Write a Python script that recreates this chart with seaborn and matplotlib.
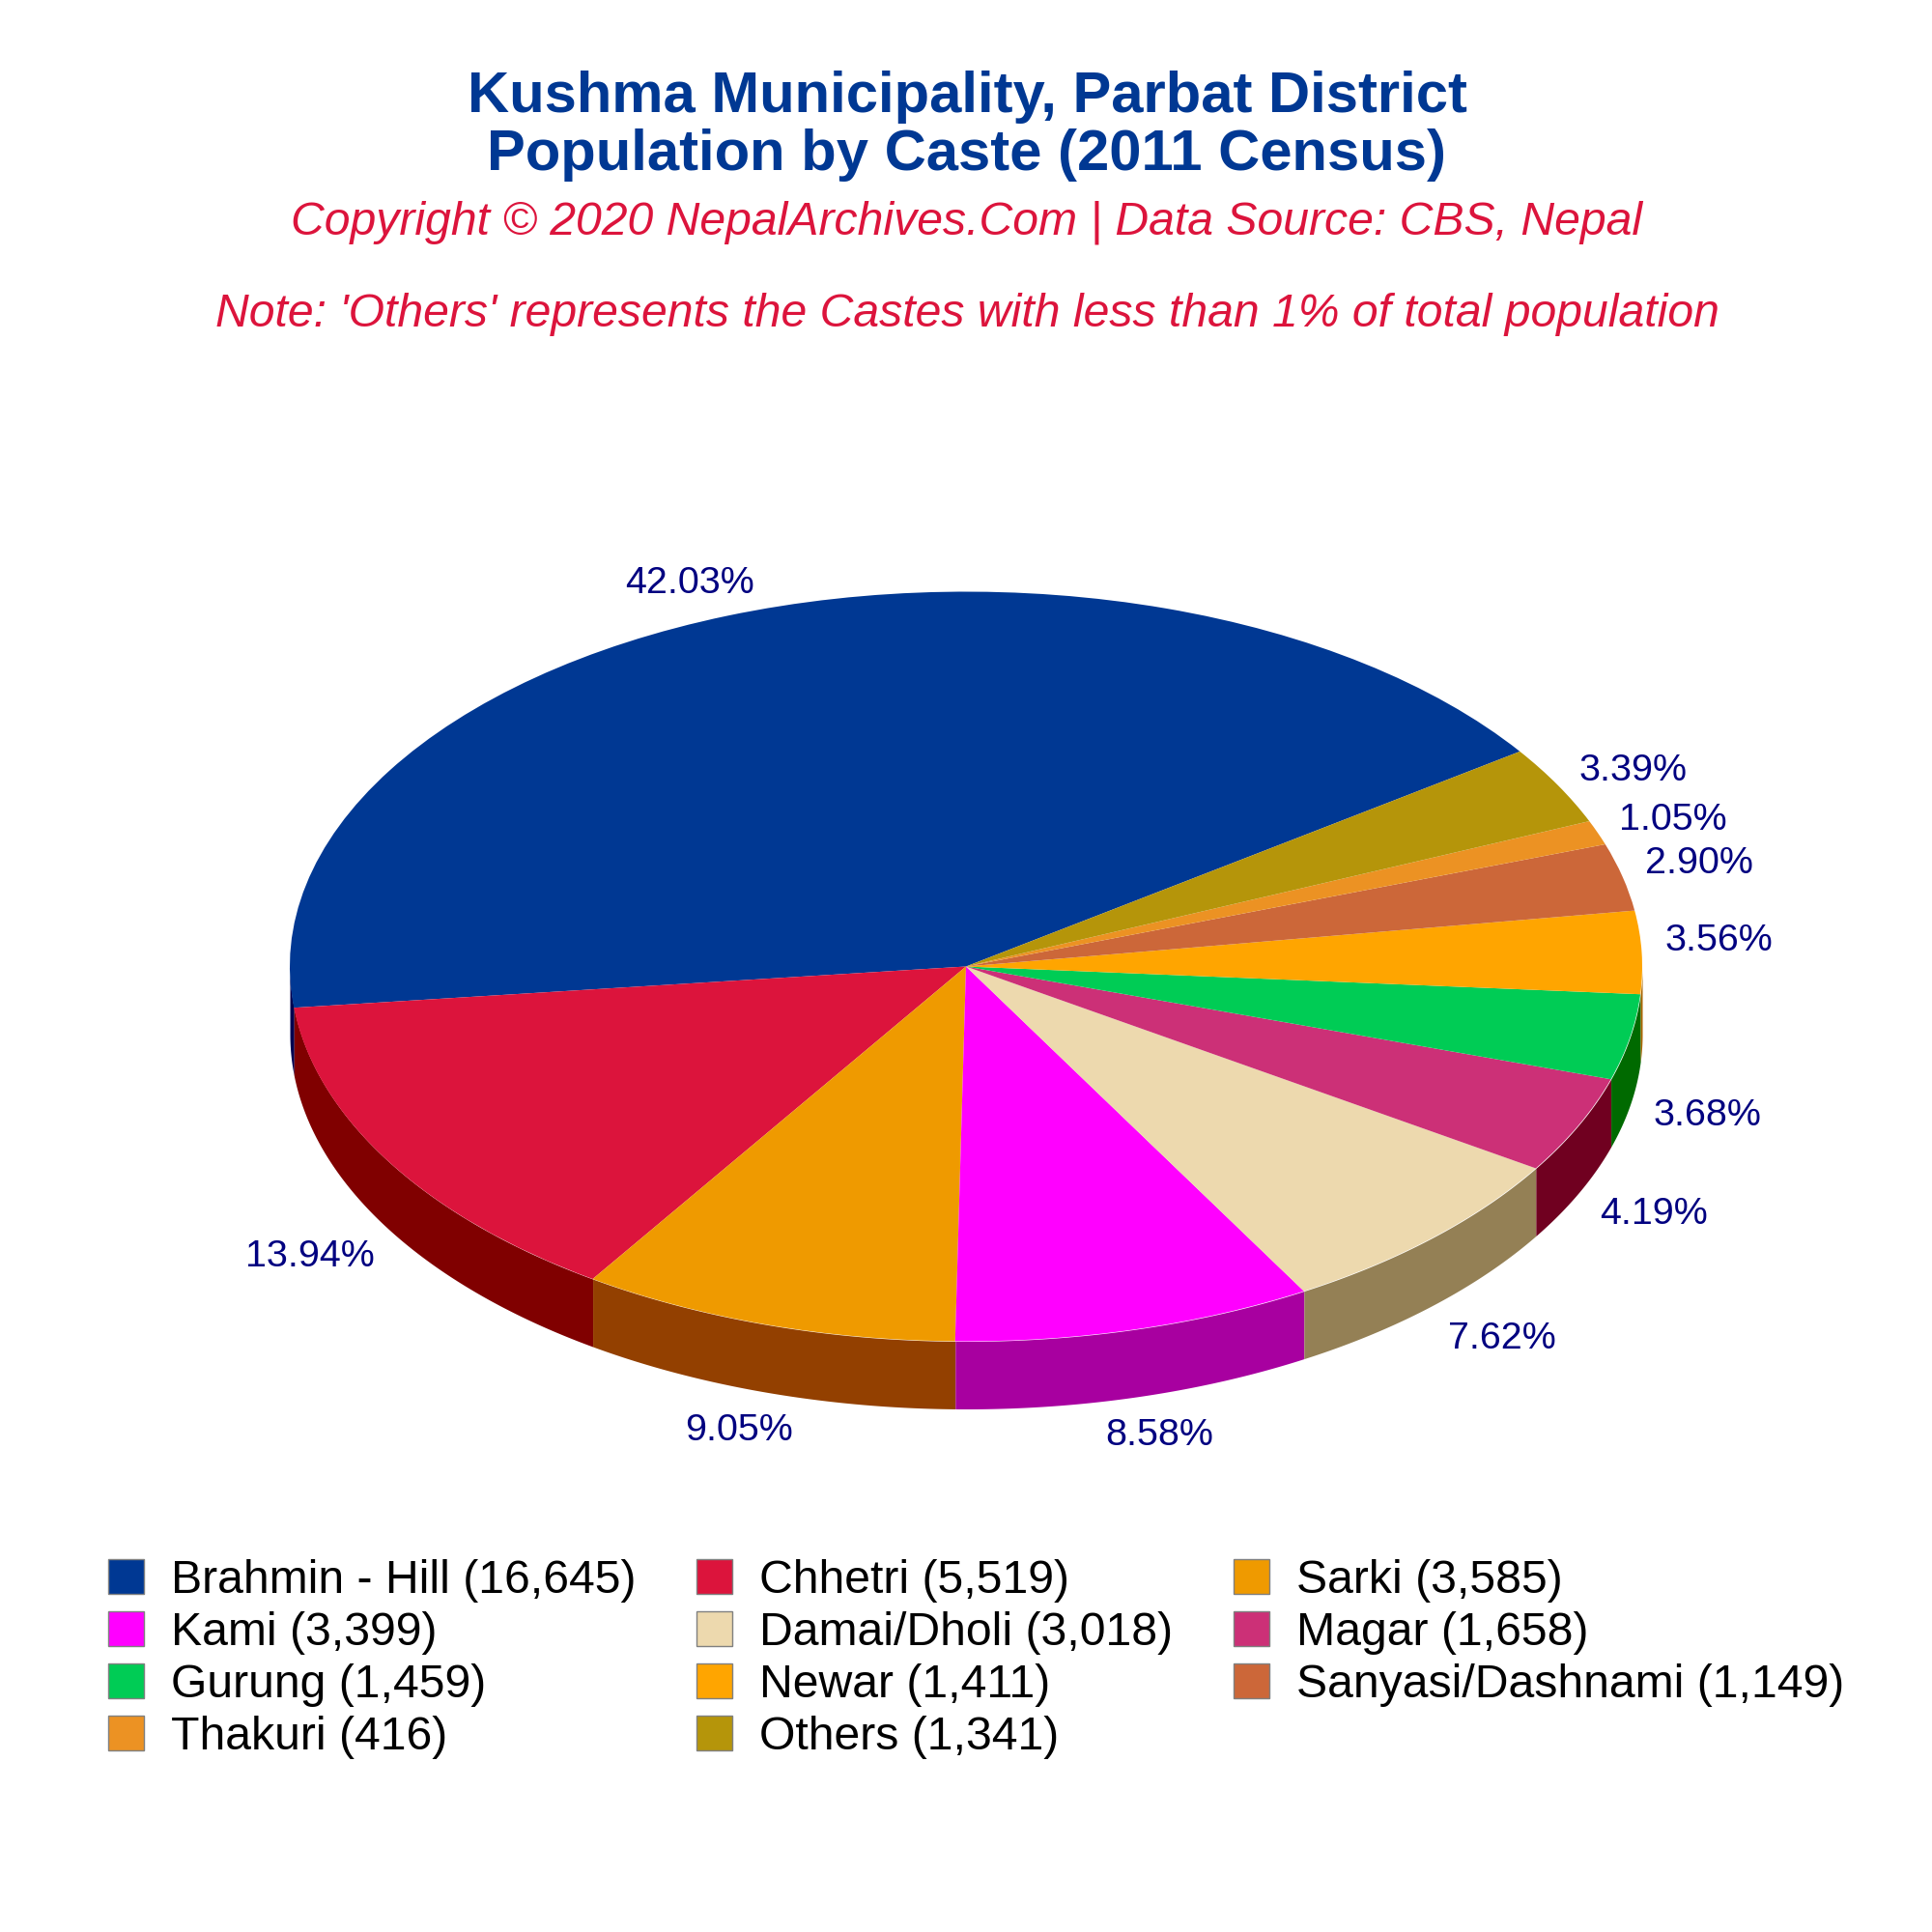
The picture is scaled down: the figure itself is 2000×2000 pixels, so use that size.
import numpy as np
import seaborn as sns
import matplotlib.pyplot as plt
from matplotlib.patches import Patch

castes = ['Brahmin - Hill', 'Chhetri', 'Sarki', 'Kami', 'Damai/Dholi', 'Magar',
          'Gurung', 'Newar', 'Sanyasi/Dashnami', 'Thakuri', 'Others']
population = [16645, 5519, 3585, 3399, 3018, 1658, 1459, 1411, 1149, 416, 1341]
top_colors = ['#003893', '#DC143C', '#EF9A00', '#FF00FF', '#EDD9AE', '#CC3077',
              '#00CC55', '#FFA500', '#CC6739', '#EC9223', '#B5950A']
side_colors = ['#00004F', '#800000', '#934000', '#A800A0', '#948055', '#700020',
               '#006A00', '#A86400', '#8A4020', '#9C5C10', '#705C00']

title_color = '#003893'
note_color = '#DC143C'
label_color = '#000080'

sns.set_theme(style='white')
plt.rcParams['font.family'] = ['Liberation Sans', 'DejaVu Sans']

W, H = 2000, 2000
cx, cy = 1000, 1000.5
rx, ry = 700, 388
depth = 70 / ry
start = 35

fig = plt.figure(figsize=(20, 20), dpi=100, facecolor='white')
ax = fig.add_axes([0, 0, 1, 1])

# Side wall of the pie, only the front half shows
values = np.array(population)
shares = values / values.sum()
edges = start + 360 * np.concatenate([[0], np.cumsum(shares)])
for i in range(len(values)):
    for shift in (0, 360):
        a = max(edges[i], 180 + shift)
        b = min(edges[i + 1], 360 + shift)
        if b > a:
            t = np.radians(np.linspace(a, b, 120))
            ax.fill_between(np.cos(t), np.sin(t) - depth, np.sin(t),
                            color=side_colors[i], linewidth=0, zorder=1)

wedges, _ = ax.pie(values, colors=sns.color_palette(top_colors), startangle=start,
                   counterclock=True, radius=1, wedgeprops={'linewidth': 0, 'zorder': 2})

ax.set_aspect('auto')
ax.set_xlim(-cx / rx, (W - cx) / rx)
ax.set_ylim(-(H - cy) / ry, cy / ry)
ax.axis('off')

# Percent labels sit next to the rim, offsets in pixels from the mid angle
offsets = [(-39, 33), (-82, -98), (-28, -110), (25, -110), (71, -105), (78, -92),
           (80, -81), (80, 12), (79, 14), (78, 13), (78, 15)]
mids = np.radians((edges[:-1] + edges[1:]) / 2)
for m, s, off in zip(mids, shares, offsets):
    ax.annotate(f'{s * 100:.2f}%', (np.cos(m), np.sin(m)), xytext=off,
                textcoords='offset pixels', ha='center', va='center',
                fontsize=28.4, color=label_color, zorder=3)

fig.text(0.5005, 1 - 100 / H, 'Kushma Municipality, Parbat District', ha='center', va='center',
         fontsize=43, fontweight='bold', color=title_color)
fig.text(0.5005, 1 - 160 / H, 'Population by Caste (2011 Census)', ha='center', va='center',
         fontsize=43, fontweight='bold', color=title_color)
fig.text(0.5005, 1 - 230 / H, 'Copyright © 2020 NepalArchives.Com | Data Source: CBS, Nepal',
         ha='center', va='center', fontsize=34.7, fontstyle='italic', color=note_color)
fig.text(0.5005, 1 - 326 / H, "Note: 'Others' represents the Castes with less than 1% of total population",
         ha='center', va='center', fontsize=34.7, fontstyle='italic', color=note_color)

# Legend is read across the rows, matplotlib fills by column
order = [0, 3, 6, 9, 1, 4, 7, 10, 2, 5, 8]
handles = [Patch(facecolor=top_colors[i], edgecolor='#808080', linewidth=1) for i in order]
labels = [f'{castes[i]} ({population[i]:,})' for i in order]
fig.legend(handles, labels, ncol=3, loc='upper left', bbox_to_anchor=(112 / W, 1 - 1614 / H),
           frameon=False, fontsize=34.7, labelcolor='black', borderpad=0, borderaxespad=0,
           handlelength=0.77, handleheight=0.77, handletextpad=0.57, labelspacing=0.185,
           columnspacing=1.31)

fig.savefig('out.png', dpi=100)
